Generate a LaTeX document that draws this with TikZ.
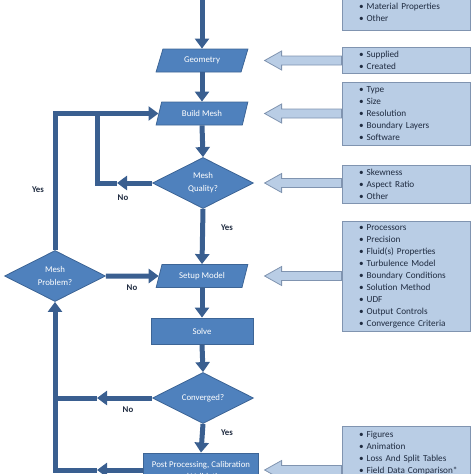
\documentclass[tikz,border=0pt]{standalone}
\usepackage{fontspec}
\setmainfont{Carlito}
\usetikzlibrary{arrows.meta,shapes.geometric}
\definecolor{nodeblue}{HTML}{4F81BD}
\definecolor{nodeedge}{HTML}{3D6596}
\definecolor{linkblue}{HTML}{3A5F90}
\definecolor{boxfill}{HTML}{B9CDE5}
\definecolor{boxedge}{HTML}{8094B0}
\definecolor{textdark}{HTML}{1F2B40}
\begin{document}
\begin{tikzpicture}[x=1pt,y=-1pt,
  nodefont/.style={text=white,font=\fontsize{8.8}{13}\selectfont},
  para/.style={trapezium,trapezium stretches=true,trapezium left angle=66,trapezium right angle=114,
    minimum width=92pt,minimum height=23pt,inner sep=0pt,fill=nodeblue,draw=nodeedge,line width=0.8pt,nodefont},
  dec/.style={diamond,minimum width=101pt,minimum height=51pt,inner sep=0pt,aspect=2,
    fill=nodeblue,draw=nodeedge,line width=0.8pt,nodefont,align=center},
  proc/.style={rectangle,inner sep=0pt,fill=nodeblue,draw=nodeedge,line width=0.8pt,nodefont,align=center},
  infobox/.style={rectangle,fill=boxfill,draw=boxedge,line width=0.8pt,inner xsep=17pt,inner ysep=0pt,
    text width=94pt,align=left,text=textdark,font=\fontsize{9.2}{12}\selectfont},
  barrow/.style={fill=boxfill,draw=boxedge,line width=0.8pt,line join=miter},
  link/.style={draw=linkblue,line width=5pt},
  arr/.style={link,-{Triangle[width=14pt,length=10pt]}},
  lab/.style={text=textdark,font=\bfseries\fontsize{8.8}{10}\selectfont}
]
\useasboundingbox (0,0) rectangle (474,474);
\clip (0,0) rectangle (474,474);

% main nodes
\node[para] (geo) at (202,60.5) {Geometry};
\node[para] (bm) at (202,113.5) {Build Mesh};
\node[dec] (mq) at (203,183) {Mesh\\Quality?};
\node[para] (sm) at (202,276) {Setup Model};
\node[proc,minimum width=102pt,minimum height=26pt] (solve) at (202,331) {Solve};
\node[dec] (conv) at (203,398) {Converged?};
\node[proc,minimum width=115pt,minimum height=34pt,font=\fontsize{8.8}{12}\selectfont] (post) at (201,470) {Post Processing, Calibration\\and Validation};
\node[dec] (mp) at (55,276) {Mesh\\Problem?};

% coordinates
\coordinate (topin) at (202,-10);
\coordinate (mqtip) at (117,183);
\coordinate (mqcorner) at (97,183);
\coordinate (mqjoin) at (97,113.5);
\coordinate (cvtip) at (97,398);
\coordinate (cvjoin) at (55,398);
\coordinate (pptip) at (97,470);
\coordinate (ppcorner) at (55,470);

% main flow
\draw[arr] (topin) -- (geo.center |- geo.north);
\draw[arr] (geo.center |- geo.south) -- (bm.center |- bm.north);
\draw[arr] (bm.center |- bm.south) -- (mq.north);
\draw[arr] (mq.south) -- (sm.center |- sm.north);
\draw[arr] (sm.center |- sm.south) -- (solve.north);
\draw[arr] (solve.south) -- (conv.north);
\draw[arr] (conv.south) -- (post.north);

% loops
\draw[arr] (mq.west) -- (mqtip);
\draw[link] (mqtip) -- (mqcorner) -- (mqjoin);
\draw[arr] (mp.north) -- (mp.north |- bm.west) -- (bm.west);
\draw[arr] (mp.east) -- (sm.west);
\draw[arr] (conv.west) -- (cvtip);
\draw[link] (cvtip) -- (cvjoin);
\draw[arr] (post.west |- pptip) -- (pptip);
\draw[arr] (pptip) -- (ppcorner) -- (mp.south);

% labels
\node[lab] (l1) at (38,190) {Yes};
\node[lab] (l2) at (123,198) {No};
\node[lab] (l3) at (227,228) {Yes};
\node[lab] (l4) at (132,288) {No};
\node[lab] (l5) at (128,410) {No};
\node[lab] (l6) at (227,433) {Yes};

% info boxes
\node[infobox,minimum height=40pt] (b1) at (406,10) {\mbox{}\\• Material Properties\\• Other};
\node[infobox,minimum height=26pt] (b2) at (406,60) {• Supplied\\• Created};
\node[infobox,minimum height=63pt] (b3) at (406,113.5) {• Type\\• Size\\• Resolution\\• Boundary Layers\\• Software};
\node[infobox,minimum height=38pt] (b4) at (406,184) {• Skewness\\• Aspect Ratio\\• Other};
\node[infobox,minimum height=110pt] (b5) at (406,276) {• Processors\\• Precision\\• Fluid(s) Properties\\• Turbulence Model\\• Boundary Conditions\\• Solution Method\\• UDF\\• Output Controls\\• Convergence Criteria};
\node[infobox,minimum height=54pt] (b6) at (406,453) {• Figures\\• Animation\\• Loss And Split Tables\\\mbox{• Field Data Comparison*}};

% block arrows
\foreach \b/\t in {b2/geo,b3/bm,b4/mq,b5/sm,b6/post}{
  \draw[barrow] (\b.west |- \t.center) ++(0,-4.5) -- ++(-60,0) -- ++(0,-5) -- ++(-17,9.5)
     -- ++(17,9.5) -- ++(0,-5) -- ++(60,0) -- cycle;
}
\end{tikzpicture}
\end{document}
